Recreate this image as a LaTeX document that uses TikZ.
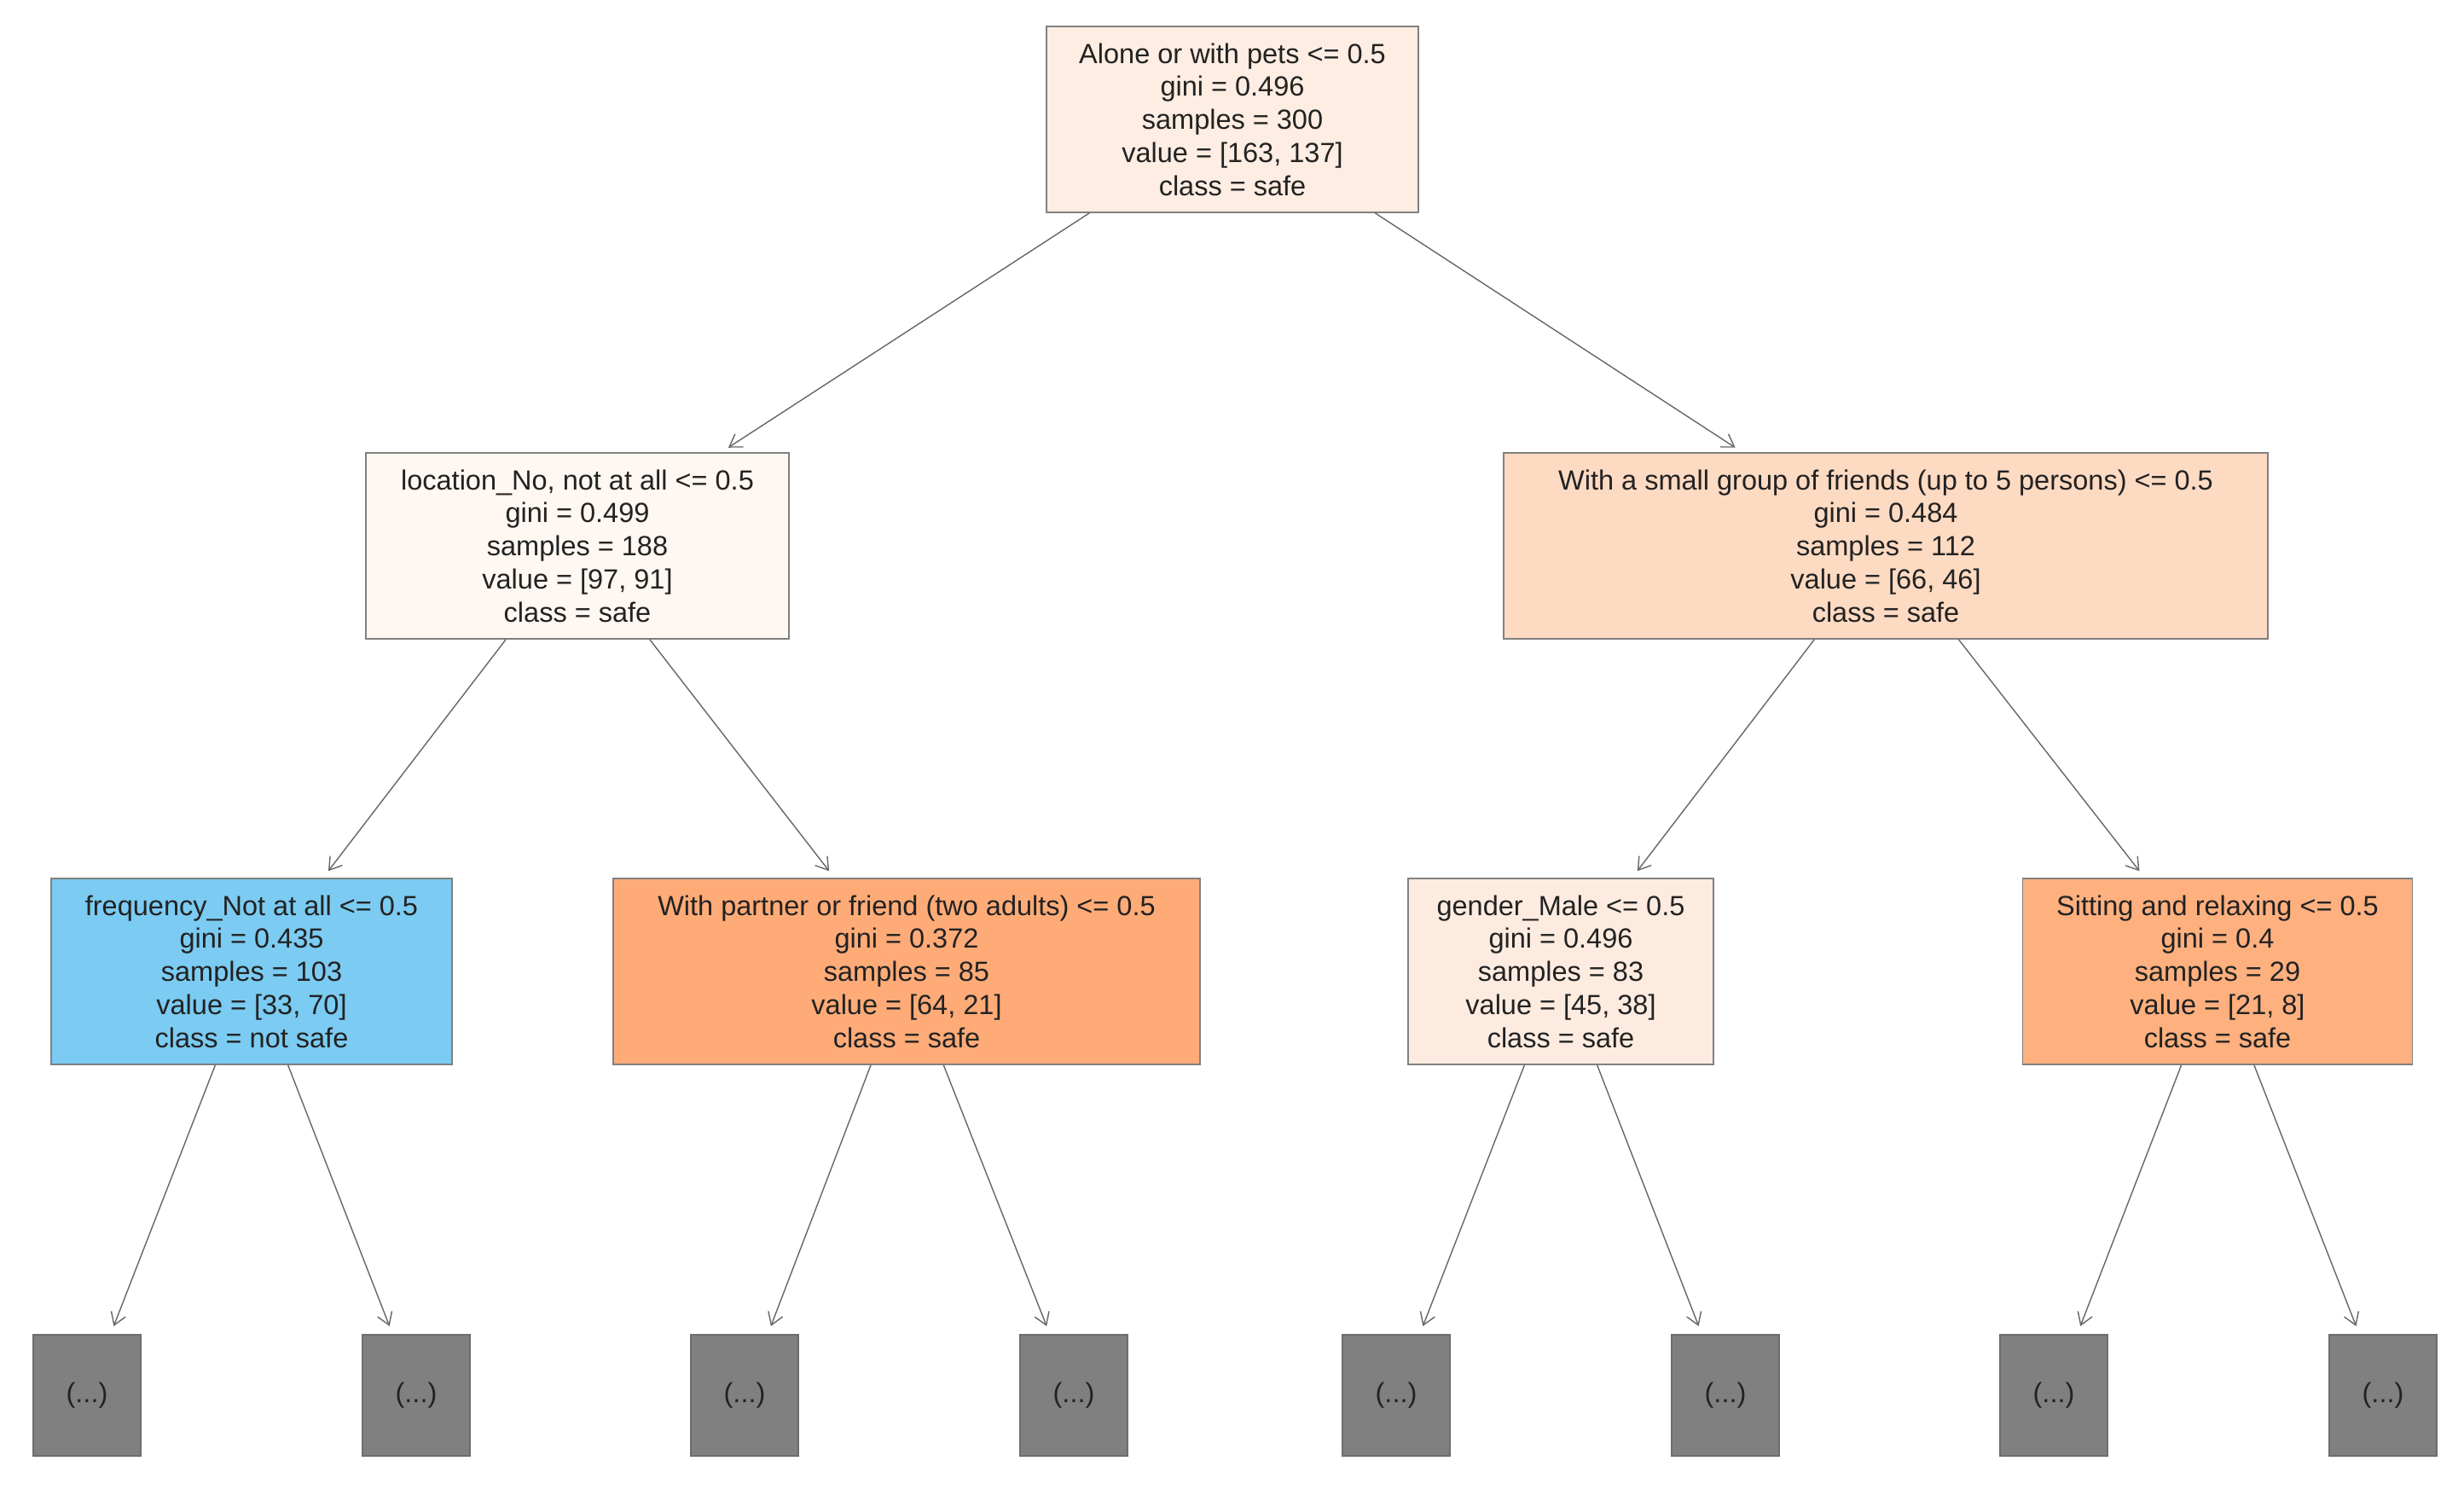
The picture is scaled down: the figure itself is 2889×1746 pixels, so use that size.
\documentclass[tikz,border=0pt]{standalone}
\usepackage{fontspec}
\setmainfont{Liberation Sans}
\usetikzlibrary{arrows.meta}
\definecolor{cRoot}{HTML}{FDEDE2}
\definecolor{cLa}{HTML}{FEF7F2}
\definecolor{cLb}{HTML}{FDDAC2}
\definecolor{cBlue}{HTML}{7BCBF2}
\definecolor{cOr}{HTML}{FFAB78}
\definecolor{cGen}{HTML}{FDEBE0}
\definecolor{cSit}{HTML}{FEB07F}
\definecolor{cLeaf}{HTML}{808080}
\definecolor{cTxt}{HTML}{222222}
\begin{document}
\begin{tikzpicture}[x=1pt,y=-1pt,
  box/.style={draw=cLeaf,line width=1.6pt,align=center,inner sep=0pt,minimum height=218pt,
    text=cTxt,font=\fontsize{32.5}{38.7}\selectfont},
  leaf/.style={draw=cLeaf!85!black,line width=1.6pt,fill=cLeaf,inner sep=0pt,minimum width=126pt,minimum height=142pt,
    text=cTxt,font=\fontsize{32.5}{38.7}\selectfont},
  edge/.style={draw=cLeaf!80!black,line width=1.4pt,-{Straight Barb[length=14pt,width=18pt,line width=1.4pt]},shorten >=10pt}]
\useasboundingbox (0,0) rectangle (2889,1746);
\node[box,fill=cRoot,minimum width=436pt] (r) at (1445,140) {Alone or with pets <= 0.5\\gini = 0.496\\samples = 300\\value = [163, 137]\\class = safe};
\node[box,fill=cLa,minimum width=496pt] (a) at (677,640) {location\_No, not at all <= 0.5\\gini = 0.499\\samples = 188\\value = [97, 91]\\class = safe};
\node[box,fill=cLb,minimum width=896pt] (b) at (2211,640) {With a small group of friends (up to 5 persons) <= 0.5\\gini = 0.484\\samples = 112\\value = [66, 46]\\class = safe};
\node[box,fill=cBlue,minimum width=470pt] (aa) at (295,1139) {frequency\_Not at all <= 0.5\\gini = 0.435\\samples = 103\\value = [33, 70]\\class = not safe};
\node[box,fill=cOr,minimum width=688pt] (ab) at (1063,1139) {With partner or friend (two adults) <= 0.5\\gini = 0.372\\samples = 85\\value = [64, 21]\\class = safe};
\node[box,fill=cGen,minimum width=358pt] (ba) at (1830,1139) {gender\_Male <= 0.5\\gini = 0.496\\samples = 83\\value = [45, 38]\\class = safe};
\node[box,fill=cSit,minimum width=457pt] (bb) at (2600,1139) {Sitting and relaxing <= 0.5\\gini = 0.4\\samples = 29\\value = [21, 8]\\class = safe};
\foreach \n/\x in {l1/102,l2/488,l3/873,l4/1259,l5/1637,l6/2023,l7/2408,l8/2794}
  \node[leaf] (\n) at (\x,1636) {(...)};
\draw[edge] (r) -- (a);
\draw[edge] (r) -- (b);
\draw[edge] (a) -- (aa);
\draw[edge] (a) -- (ab);
\draw[edge] (b) -- (ba);
\draw[edge] (b) -- (bb);
\draw[edge] (aa) -- (l1);
\draw[edge] (aa) -- (l2);
\draw[edge] (ab) -- (l3);
\draw[edge] (ab) -- (l4);
\draw[edge] (ba) -- (l5);
\draw[edge] (ba) -- (l6);
\draw[edge] (bb) -- (l7);
\draw[edge] (bb) -- (l8);
\end{tikzpicture}
\end{document}
